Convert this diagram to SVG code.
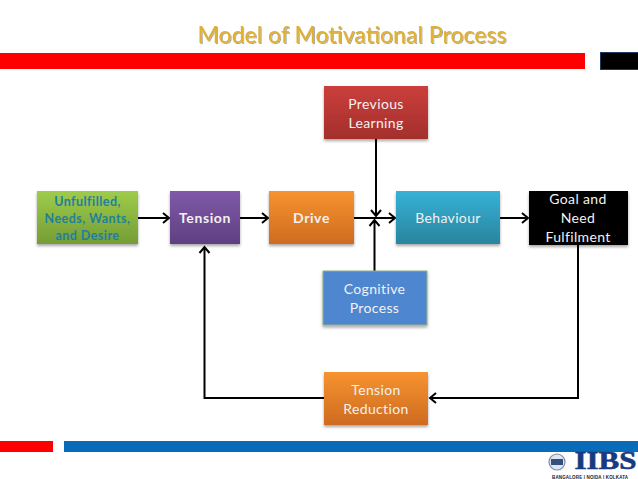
<svg xmlns="http://www.w3.org/2000/svg" width="638" height="479" viewBox="0 0 638 479">
<style>
text{font-family:"Lato","Open Sans","Liberation Sans",sans-serif;text-anchor:middle}
.n{font-size:14px;fill:#f2f2f2;letter-spacing:.35px}
.g{font-size:12.500px;font-weight:700;fill:#1f7f9f;letter-spacing:.45px}
.b{font-weight:700;letter-spacing:.6px}
.box{filter:url(#sh)}
.c{fill:none;stroke:#000;stroke-width:2}
</style>
<defs>
<filter id="sh" x="-10%" y="-10%" width="120%" height="125%"><feDropShadow dx="0" dy="2" stdDeviation="1.5" flood-color="#000" flood-opacity=".35"/></filter>
<filter id="ts" x="-5%" y="-20%" width="110%" height="140%"><feDropShadow dx="1" dy="1" stdDeviation=".6" flood-color="#000" flood-opacity=".35"/></filter>
<linearGradient id="red" x1="0" y1="0" x2="0" y2="1"><stop offset="0" stop-color="#cb3f3c"/><stop offset="1" stop-color="#a32f2c"/></linearGradient>
<linearGradient id="green" x1="0" y1="0" x2="0" y2="1"><stop offset="0" stop-color="#9fcc4a"/><stop offset="1" stop-color="#749c36"/></linearGradient>
<linearGradient id="purple" x1="0" y1="0" x2="0" y2="1"><stop offset="0" stop-color="#8059a8"/><stop offset="1" stop-color="#5f4082"/></linearGradient>
<linearGradient id="orange" x1="0" y1="0" x2="0" y2="1"><stop offset="0" stop-color="#f79330"/><stop offset="1" stop-color="#ce6b20"/></linearGradient>
<linearGradient id="teal" x1="0" y1="0" x2="0" y2="1"><stop offset="0" stop-color="#35b2d6"/><stop offset="1" stop-color="#2a849f"/></linearGradient>
</defs>

<text x="352" y="43" font-size="23" fill="#dfb030" filter="url(#ts)" style="font-weight:500">Model of Motivational Process</text>
<rect x="0" y="53" width="585" height="16" fill="#fe0000"/>
<rect x="600.500" y="52.500" width="38" height="17" fill="#000" stroke="#1f3a5f"/>
<rect x="0" y="441" width="53" height="11" fill="#fe0000"/>
<rect x="64" y="441" width="574" height="11" fill="#0a6cb8"/>

<g id="connectors">
<path class="c" d="M138 218H168M163 213l6 5-6 5"/>
<path class="c" d="M240 218H267M262 213l6 5-6 5"/>
<path class="c" d="M354 218H394M389 213l6 5-6 5"/>
<path class="c" d="M500 218H527M522 213l6 5-6 5"/>
<path class="c" d="M376 139V216M371 210l5 6 5-6"/>
<path class="c" d="M374.500 271V220M369.500 226l5-6 5 6"/>
<path class="c" d="M578 245V398H430M436 393l-6 5 6 5"/>
<path class="c" d="M324 398H204.500V247M199.500 253l5-6 5 6"/>
</g>

<g id="previous-learning"><rect class="box" x="324" y="86" width="104" height="53" fill="url(#red)"/><text class="n" x="376" y="109">Previous</text><text class="n" x="376" y="128">Learning</text></g>
<g id="unfulfilled"><rect class="box" x="37" y="191" width="101" height="53" fill="url(#green)"/><text class="g" x="87.500" y="206">Unfulfilled,</text><text class="g" x="87.500" y="223">Needs, Wants,</text><text class="g" x="87.500" y="240">and Desire</text></g>
<g id="tension"><rect class="box" x="170" y="191" width="70" height="53" fill="url(#purple)"/><text class="n b" x="205" y="223">Tension</text></g>
<g id="drive"><rect class="box" x="269" y="191" width="85" height="53" fill="url(#orange)"/><text class="n b" x="311.500" y="223">Drive</text></g>
<g id="behaviour"><rect class="box" x="396" y="191" width="104" height="53" fill="url(#teal)"/><text class="n" x="448" y="223">Behaviour</text></g>
<g id="goal"><rect class="box" x="529" y="191" width="99" height="54" fill="#000"/><text class="n" x="578" y="204">Goal and</text><text class="n" x="578" y="223">Need</text><text class="n" x="578" y="242">Fulfilment</text></g>
<g id="cognitive-process"><rect class="box" x="323" y="271" width="104" height="54" fill="#4f86d0" stroke="#8fb08a" stroke-width="1"/><text class="n" x="374.500" y="294">Cognitive</text><text class="n" x="374.500" y="313">Process</text></g>
<g id="tension-reduction"><rect class="box" x="324" y="372" width="104" height="53" fill="url(#orange)"/><text class="n" x="376" y="395">Tension</text><text class="n" x="376" y="414">Reduction</text></g>

<g id="logo">
<circle cx="557" cy="462" r="8" fill="#dfe6ee" stroke="#7f8da3" stroke-width="1.200"/>
<rect x="551" y="459" width="12" height="6" fill="#33507f"/>
<text x="605.500" y="469" font-size="25" font-weight="700" fill="#173a80" stroke="#173a80" stroke-width=".6" style="font-family:'Liberation Serif',serif" textLength="62" lengthAdjust="spacingAndGlyphs">IIBS</text>
<text x="590" y="478.500" font-size="4.500" font-weight="700" fill="#222" style="font-family:'Liberation Sans',sans-serif" textLength="76" lengthAdjust="spacing">BANGALORE | NOIDA | KOLKATA</text>
</g>
</svg>
